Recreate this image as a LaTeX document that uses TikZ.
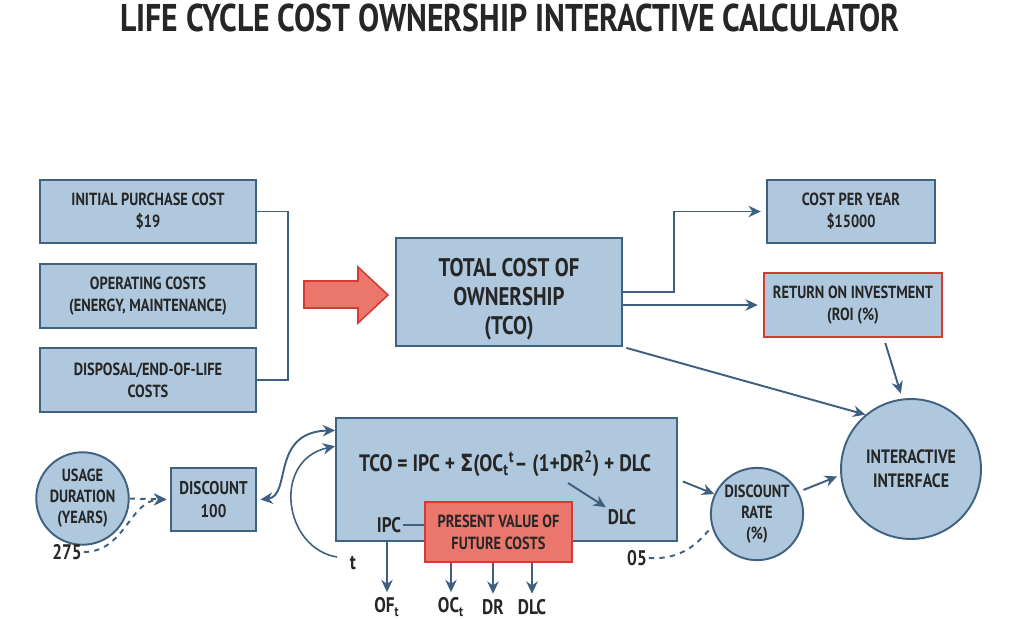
\documentclass[tikz,border=0pt]{standalone}
\usepackage{fontspec}
\setmainfont[FakeStretch=0.82]{PT Sans}
\newfontfamily\sigmafont[FakeStretch=0.82]{DejaVu Sans}
\usetikzlibrary{arrows.meta,positioning,calc}
\definecolor{boxfill}{HTML}{B0C8DD}
\definecolor{boxline}{HTML}{3F6282}
\definecolor{flowblue}{HTML}{3E6080}
\definecolor{alertred}{HTML}{D63A34}
\definecolor{alertfill}{HTML}{EA766C}
\definecolor{inktext}{HTML}{262626}
\tikzset{
    >={Stealth[length=7pt,width=6.5pt]},
    costbox/.style={
        rectangle,
        draw=boxline,
        line width=1.1pt,
        fill=boxfill,
        align=center,
        text=inktext,
        inner sep=2pt,
        font={\fontsize{10}{12.5}\selectfont\bfseries}
    },
    alertbox/.style={costbox, draw=alertred},
    valuebox/.style={costbox, draw=alertred, fill=alertfill},
    roundnode/.style={
        circle,
        draw=boxline,
        line width=1.1pt,
        fill=boxfill,
        align=center,
        text=inktext,
        inner sep=1pt,
        font={\fontsize{10}{12}\selectfont\bfseries}
    },
    flow/.style={draw=flowblue, line width=1.1pt},
    tag/.style={text=inktext, inner sep=1pt, font={\fontsize{12}{14}\selectfont\bfseries}},
}

\begin{document}
\begin{tikzpicture}[x=0.02cm, y=-0.02cm]
\useasboundingbox (0,0) rectangle (1024,619);

\node[text=inktext, font={\fontsize{22}{25}\selectfont\bfseries}] (title) at (510,18)
    {LIFE CYCLE COST OWNERSHIP INTERACTIVE CALCULATOR};

% input costs
\node[costbox, minimum width=4.32cm, minimum height=1.26cm] (ipc) at (148,211.5) {INITIAL PURCHASE COST\\\$19};
\node[costbox, minimum width=4.32cm, minimum height=1.28cm] (oc) at (148,296) {OPERATING COSTS\\(ENERGY, MAINTENANCE)};
\node[costbox, minimum width=4.32cm, minimum height=1.28cm] (dlc) at (148,380) {DISPOSAL/END-OF-LIFE\\COSTS};

\draw[flow] (ipc.east) -- ++(31,0) |- (dlc.east);

% big red arrow
\draw[draw=alertred, fill=alertfill, line width=0.9pt, line join=miter]
    (304,281) -- (358,281) -- (358,267) -- (388,295) -- (358,323) -- (358,308) -- (304,308) -- cycle;

\node[costbox, minimum width=4.52cm, minimum height=2.16cm, font={\fontsize{14.5}{16.5}\selectfont\bfseries}] (tco) at (509,292)
    {\rule{0pt}{18pt}TOTAL COST OF\\OWNERSHIP\\(TCO)};

% outputs
\node[costbox, minimum width=3.36cm, minimum height=1.26cm] (cpy) at (851,211.5) {COST PER YEAR\\\$15000};
\node[alertbox, minimum width=3.56cm, minimum height=1.28cm] (roi) at (853,305) {RETURN ON INVESTMENT\\(ROI (\%)};
\node[roundnode, minimum size=2.8cm, font={\fontsize{11}{13.5}\selectfont\bfseries}] (iface) at (911,469) {INTERACTIVE\\INTERFACE};

\draw[flow, ->] (tco.east) -- ++(51,0) |- ([xshift=-3pt]cpy.west);
\draw[flow, ->] (tco.east |- roi.west) -- ([xshift=-3pt]roi.west);
\draw[flow, ->, shorten <=2pt] (tco.south east) -- (iface.130);
\draw[flow, ->, shorten <=3pt, shorten >=3pt] (roi.-47) -- (iface.97);

% formula
\node[costbox, minimum width=6.82cm, minimum height=2.46cm] (formula) at (506.5,479.5) {};
\node[tag, font={\fontsize{13.5}{16}\selectfont\bfseries}] (eqn) at (505,464)
    {TCO = IPC + {\sigmafont Σ}(OC\textsubscript{t}\textsuperscript{t}– (1+DR\textsuperscript{2}) + DLC};
\coordinate (dlcfrom) at (568,483);
\node[tag] (dlcin) at (622,517) {DLC};
\draw[flow, ->] (dlcfrom) -- (dlcin.north west);

\node[valuebox, minimum width=2.94cm, minimum height=1.2cm] (pv) at (498.5,532) {PRESENT VALUE OF\\FUTURE COSTS};
\node[tag] (ipclab) at (389,525) {IPC};
\draw[flow, line width=0.8pt] (ipclab.east) -- (pv.west |- ipclab.east);

\node[tag] (oft) at (387,607) {OF\textsubscript{t}};
\node[tag] (oct) at (451,607) {OC\textsubscript{t}};
\node[tag] (dr) at (493,607) {DR};
\node[tag] (dlcout) at (532,607) {DLC};
\draw[flow, ->, shorten >=2pt] (oft.north |- formula.south) -- (oft.north);
\draw[flow, ->, shorten >=2pt] (oct.north |- pv.south) -- (oct.north);
\draw[flow, ->, shorten >=2pt] (dr.north |- pv.south) -- (dr.north);
\draw[flow, ->, shorten >=2pt] (dlcout.north |- pv.south) -- (dlcout.north);

% time loop
\node[tag] (tlab) at (353,563) {t};
\coordinate (tstart) at (337,557);
\draw[flow, ->, line width=0.9pt] (tstart) .. controls (283,548) and (272,460) .. (formula.169);

% usage and discount
\node[roundnode, minimum size=1.84cm] (usage) at (82.5,498.5) {USAGE\\DURATION\\(YEARS)};
\node[costbox, minimum width=1.7cm, minimum height=1.26cm, font={\fontsize{10.5}{13}\selectfont\bfseries}] (disc) at (213.5,499.5) {DISCOUNT\\100};
\node[tag] (years) at (67,552) {275};
\draw[flow, dashed, ->] (usage.east) -- ([xshift=-2pt]disc.west);
\draw[flow, dashed, ->] (years.east) .. controls (125,552) and (130,500) .. ([xshift=-2pt]disc.west);
\draw[flow, <->] ([xshift=2pt]disc.east) .. controls (292,496) and (270,432) .. (formula.164);

% discount rate
\node[roundnode, minimum size=1.84cm] (rate) at (757,514) {DISCOUNT\\RATE\\(\%)};
\node[tag] (ratelab) at (637,558) {05};
\draw[flow, dashed] (ratelab.east) .. controls (685,560) and (700,540) .. (rate.196);
\draw[flow, ->, shorten <=3pt] (formula.east) -- (rate.155);
\draw[flow, ->, shorten <=3pt, shorten >=2pt] (rate.28) -- (iface.185);
\end{tikzpicture}
\end{document}
